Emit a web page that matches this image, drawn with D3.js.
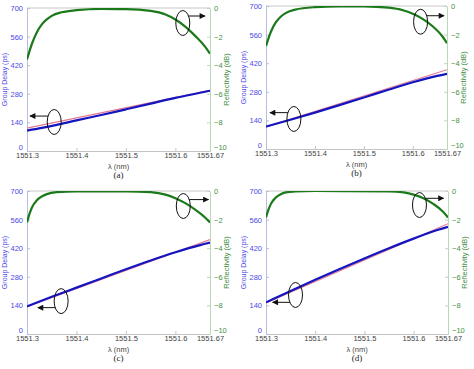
<!DOCTYPE html>
<html>
<head>
<meta charset="utf-8">
<script src="https://cdn.jsdelivr.net/npm/d3@7"></script>
<style>
  body { margin: 0; background: #fff; }
  svg { display: block; }
  text { font-family: "Liberation Sans", Arial, sans-serif; }
</style>
</head>
<body>
<div id="chart"></div>
<script>
// Data
const xTicks = [1551.3, 1551.4, 1551.5, 1551.6, 1551.67];
const delayTicks = [0, 140, 280, 420, 560, 700];
const reflTicks = [-10, -8, -6, -4, -2, 0];
const panelLabels = ["(a)", "(b)", "(c)", "(d)"];

// reflectivity (dB) per panel: [wavelength, dB]
const reflA = [[1551.30, -3.6], [1551.31, -2.5], [1551.32, -1.7], [1551.33, -1.15], [1551.34, -0.8], [1551.35, -0.55], [1551.37, -0.3], [1551.40, -0.15], [1551.45, -0.07], [1551.50, -0.08], [1551.55, -0.2], [1551.58, -0.45], [1551.60, -0.8], [1551.62, -1.3], [1551.64, -1.95], [1551.66, -2.7], [1551.67, -3.2]];
const reflB = [[1551.30, -2.8], [1551.31, -1.8], [1551.32, -1.15], [1551.33, -0.75], [1551.34, -0.5], [1551.36, -0.25], [1551.40, -0.08], [1551.45, -0.02], [1551.50, -0.03], [1551.55, -0.12], [1551.58, -0.3], [1551.60, -0.55], [1551.62, -0.9], [1551.64, -1.4], [1551.66, -2.1], [1551.67, -2.6]];
const reflC = [[1551.30, -2.2], [1551.305, -1.6], [1551.31, -1.15], [1551.32, -0.65], [1551.33, -0.38], [1551.34, -0.22], [1551.36, -0.08], [1551.40, -0.02], [1551.50, -0.02], [1551.55, -0.08], [1551.58, -0.25], [1551.60, -0.5], [1551.62, -0.85], [1551.64, -1.3], [1551.66, -1.85], [1551.67, -2.2]];
const reflD = [[1551.30, -1.85], [1551.305, -1.3], [1551.31, -0.9], [1551.32, -0.45], [1551.33, -0.22], [1551.34, -0.1], [1551.36, -0.03], [1551.40, 0], [1551.55, -0.02], [1551.58, -0.1], [1551.60, -0.25], [1551.62, -0.5], [1551.64, -0.9], [1551.66, -1.45], [1551.67, -1.85]];

// group delay (ps), simulated (blue) and linear fit (red)
const delayA = [[1551.30, 100], [1551.33, 113], [1551.36, 128], [1551.40, 150], [1551.45, 176], [1551.50, 204], [1551.55, 232], [1551.60, 260], [1551.65, 285], [1551.67, 295]];
const delayB = [[1551.30, 110], [1551.35, 143], [1551.40, 178], [1551.45, 215], [1551.50, 252], [1551.55, 290], [1551.60, 327], [1551.65, 358], [1551.67, 368]];
const delayC = [[1551.30, 135], [1551.35, 182], [1551.40, 227], [1551.45, 272], [1551.50, 317], [1551.55, 360], [1551.60, 400], [1551.65, 435], [1551.67, 447]];
const delayD = [[1551.30, 155], [1551.35, 210], [1551.40, 265], [1551.45, 318], [1551.50, 370], [1551.55, 420], [1551.60, 467], [1551.65, 510], [1551.67, 525]];

const fitA = [[1551.30, 112], [1551.67, 297]];
const fitB = [[1551.30, 108], [1551.67, 388]];
const fitC = [[1551.30, 133], [1551.67, 462]];
const fitD = [[1551.30, 152], [1551.67, 540]];

// annotation ellipses: [λ, value] centre, arrow [λ tip, value]
const leftMarks = [
  { c: [1551.355, 142], a: [1551.306, 171] },
  { c: [1551.357, 147], a: [1551.308, 178] },
  { c: [1551.369, 161], a: [1551.322, 129] },
  { c: [1551.360, 191], a: [1551.3135, 155] },
];
const rightMarks = [
  { c: [1551.615, -1.05], a: [1551.66, -0.56] },
  { c: [1551.616, -1.1], a: [1551.664, -0.68] },
  { c: [1551.616, -1.05], a: [1551.667, -0.6] },
  { c: [1551.612, -0.98], a: [1551.661, -0.51] },
];

const reflSeries = [reflA, reflB, reflC, reflD];
const delaySeries = [delayA, delayB, delayC, delayD];
const fitSeries = [fitA, fitB, fitC, fitD];

// Dimensions
const width = 474, height = 369;
const panels = [
  { x: 27, y: 8, w: 183, h: 143 },
  { x: 266, y: 6, w: 181, h: 143 },
  { x: 27, y: 191, w: 183, h: 143 },
  { x: 266, y: 191, w: 182, h: 143 },
];

const svg = d3.select("#chart").append("svg")
  .attr("width", width).attr("height", height);

const defs = svg.append("defs");
defs.append("marker")
  .attr("id", "arrow")
  .attr("viewBox", "0 0 10 10")
  .attr("refX", 9).attr("refY", 5)
  .attr("markerWidth", 7).attr("markerHeight", 6)
  .attr("markerUnits", "userSpaceOnUse")
  .attr("orient", "auto")
  .append("path").attr("d", "M0,0 L10,5 L0,10 Z").attr("fill", "#111");

const blueTxt = "#4b4be6", greenTxt = "#3f8f3f";

panels.forEach((p, i) => {
  const g = svg.append("g").attr("transform", `translate(${p.x},${p.y})`);

  const xScale = d3.scaleLinear().domain([1551.3, 1551.67]).range([0, p.w]);
  const yLeft = d3.scaleLinear().domain([0, 700]).range([p.h, 0]);
  const yRight = d3.scaleLinear().domain([-10, 0]).range([p.h, 0]);

  // frame
  g.append("line").attr("x1", 0).attr("x2", p.w).attr("y1", 0).attr("y2", 0)
    .attr("stroke", "#c8c8c8").attr("stroke-width", 1);

  // axes (ticks pointing inward like MATLAB)
  const xAxis = g.append("g").attr("transform", `translate(0,${p.h})`)
    .call(d3.axisBottom(xScale).tickValues(xTicks).tickSizeInner(-3).tickSizeOuter(0).tickPadding(2)
      .tickFormat(d => d3.format(".2~f")(d)));
  xAxis.select(".domain").attr("stroke", "#c4c4c4");
  xAxis.selectAll(".tick line").attr("stroke", "#c4c4c4");
  xAxis.selectAll("text").attr("fill", "#444").style("font-size", "7.5px");

  const lAxis = g.append("g")
    .call(d3.axisLeft(yLeft).tickValues(delayTicks).tickSizeInner(-3).tickSizeOuter(0).tickPadding(4));
  lAxis.select(".domain").attr("stroke", "#b9bde0");
  lAxis.selectAll(".tick line").attr("stroke", "#b9bde0");
  lAxis.selectAll("text").attr("fill", blueTxt).style("font-size", "7.5px");
  lAxis.selectAll(".tick").filter(d => d === 0).select("text").attr("dy", "-0.2em");

  const rAxis = g.append("g").attr("transform", `translate(${p.w},0)`)
    .call(d3.axisRight(yRight).tickValues(reflTicks).tickSizeInner(-3).tickSizeOuter(0).tickPadding(4));
  rAxis.select(".domain").attr("stroke", "#b9d8b9");
  rAxis.selectAll(".tick line").attr("stroke", "#b9d8b9");
  rAxis.selectAll("text").attr("fill", greenTxt).style("font-size", "7.5px");
  rAxis.selectAll(".tick").filter(d => d === -10).select("text").attr("dy", "-0.2em");

  // axis titles
  g.append("text")
    .attr("transform", `translate(${-20.5},${p.h / 2}) rotate(-90)`)
    .attr("text-anchor", "middle").attr("fill", blueTxt)
    .style("font-size", "7px").text("Group Delay (ps)");
  g.append("text")
    .attr("transform", `translate(${p.w + 19},${p.h / 2}) rotate(-90)`)
    .attr("text-anchor", "middle").attr("fill", greenTxt)
    .style("font-size", "7.5px").text("Reflectivity (dB)");
  g.append("text")
    .attr("x", p.w / 2).attr("y", p.h + 18)
    .attr("text-anchor", "middle").attr("fill", "#444")
    .style("font-size", "7.5px").text("λ (nm)");
  g.append("text")
    .attr("x", p.w / 2).attr("y", p.h + 26.5)
    .attr("text-anchor", "middle").attr("fill", "#222")
    .style("font-family", "'Liberation Serif', 'DejaVu Serif', serif")
    .style("font-size", "9px").text(panelLabels[i]);

  const clip = `clip${i}`;
  defs.append("clipPath").attr("id", clip)
    .append("rect").attr("width", p.w).attr("height", p.h);
  const plot = g.append("g").attr("clip-path", `url(#${clip})`);

  const lineL = d3.line().x(d => xScale(d[0])).y(d => yLeft(d[1])).curve(d3.curveMonotoneX);
  const lineR = d3.line().x(d => xScale(d[0])).y(d => yRight(d[1])).curve(d3.curveMonotoneX);

  plot.append("path").datum(reflSeries[i]).attr("d", lineR)
    .attr("fill", "none").attr("stroke", "#1a7a1a").attr("stroke-width", 2.2);
  plot.append("path").datum(fitSeries[i]).attr("d", lineL)
    .attr("fill", "none").attr("stroke", "#e07890").attr("stroke-width", 1.1);
  plot.append("path").datum(delaySeries[i]).attr("d", lineL)
    .attr("fill", "none").attr("stroke", "#1414c0").attr("stroke-width", 2.2);

  // annotations
  const lm = leftMarks[i];
  const lcx = xScale(lm.c[0]), lcy = yLeft(lm.c[1]);
  const ay = yLeft(lm.a[1]);
  const rx = 7, ry = 12.5;
  g.append("ellipse").attr("cx", lcx).attr("cy", lcy).attr("rx", rx).attr("ry", ry)
    .attr("fill", "none").attr("stroke", "#111").attr("stroke-width", 1);
  const lxEdge = lcx - rx * Math.sqrt(Math.max(0, 1 - ((ay - lcy) / ry) ** 2));
  g.append("line").attr("x1", lxEdge).attr("y1", ay).attr("x2", xScale(lm.a[0])).attr("y2", ay)
    .attr("stroke", "#111").attr("stroke-width", 1).attr("marker-end", "url(#arrow)");

  const rm = rightMarks[i];
  const rcx = xScale(rm.c[0]), rcy = yRight(rm.c[1]);
  const ary = yRight(rm.a[1]);
  g.append("ellipse").attr("cx", rcx).attr("cy", rcy).attr("rx", rx).attr("ry", ry)
    .attr("fill", "none").attr("stroke", "#111").attr("stroke-width", 1);
  const rxEdge = rcx + rx * Math.sqrt(Math.max(0, 1 - ((ary - rcy) / ry) ** 2));
  g.append("line").attr("x1", rxEdge).attr("y1", ary).attr("x2", xScale(rm.a[0])).attr("y2", ary)
    .attr("stroke", "#111").attr("stroke-width", 1).attr("marker-end", "url(#arrow)");
});
</script>
</body>
</html>
